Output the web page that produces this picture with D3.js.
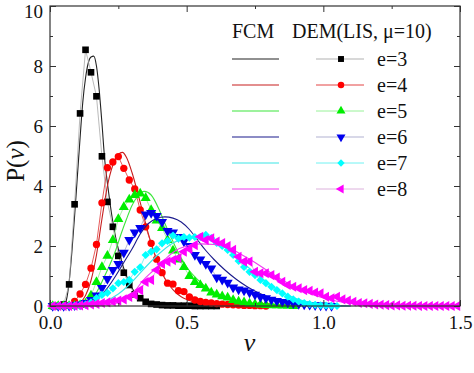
<!DOCTYPE html>
<html lang="en">
<head>
  <meta charset="UTF-8">
  <title>P(v) distributions, FCM vs DEM</title>
  <script src="https://cdn.jsdelivr.net/npm/d3@7"></script>
  <style>
    body { margin: 0; background: #fff; }
    svg text { font-family: "Liberation Serif", "DejaVu Serif", serif !important; fill: #111; }
  </style>
</head>
<body>
<script>
  // --- data ---
  // DEM sample positions (v)
  const vGrid = [0.01, 0.03, 0.05, 0.07, 0.09, 0.11, 0.13, 0.15, 0.17, 0.19,
    0.21, 0.23, 0.25, 0.27, 0.29, 0.31, 0.33, 0.35, 0.37, 0.39,
    0.41, 0.43, 0.45, 0.47, 0.49, 0.51, 0.53, 0.55, 0.57, 0.59,
    0.61, 0.63, 0.65, 0.67, 0.69, 0.71, 0.73, 0.75, 0.77, 0.79,
    0.81, 0.83, 0.85, 0.87, 0.89, 0.91, 0.93, 0.95, 0.97, 0.99,
    1.01, 1.03, 1.05, 1.07, 1.09, 1.11, 1.13, 1.15, 1.17, 1.19,
    1.21, 1.23, 1.25, 1.27, 1.29, 1.31, 1.33, 1.35, 1.37, 1.39,
    1.41, 1.43, 1.45, 1.47, 1.49];

  // DEM P(v), one value per vGrid entry (series stop where they reach 0)
  const dem3 = [0, 0, 0.05, 0.72, 3.39, 6.42, 8.54, 7.79, 6.99, 4.99,
    3.47, 2.64, 1.67, 1.11, 0.70, 0.39, 0.26, 0.14, 0.07, 0.05,
    0.03, 0.02, 0.02, 0.01, 0.01, 0.01, 0, 0, 0, 0, 0];
  const dem4 = [0, 0, 0, 0.02, 0.15, 0.4, 0.72, 1.26, 2.05, 3.44,
    4.61, 4.8, 4.98, 4.59, 4.2, 3.9, 3.2, 2.64, 2.09, 1.56,
    1.11, 0.76, 0.73, 0.51, 0.48, 0.3, 0.2, 0.15, 0.12, 0.1,
    0.08, 0.06, 0.05, 0.04, 0.03, 0.02, 0.02, 0.01, 0.01, 0];
  const dem5 = [0, 0, 0, 0, 0.01, 0.03, 0.08, 0.35, 0.8, 1.3,
    1.67, 2.2, 2.9, 3.3, 3.55, 3.7, 3.75, 3.6, 3.2, 2.85,
    2.6, 2.2, 1.85, 1.55, 1.3, 1.0, 0.8, 0.7, 0.58, 0.45,
    0.38, 0.32, 0.28, 0.2, 0.15, 0.12, 0.08, 0.06, 0.05, 0.03,
    0.02, 0.02, 0.01, 0.01, 0];
  const dem6 = [0, 0, 0, 0.01, 0.03, 0.05, 0.1, 0.2, 0.35, 0.6,
    0.9, 1.2, 1.4, 1.78, 2.2, 2.45, 2.6, 3.05, 3.1, 3.0,
    2.8, 2.5, 2.45, 2.3, 2.15, 2.0, 1.7, 1.55, 1.4, 1.25,
    0.95, 0.88, 0.78, 0.62, 0.55, 0.52, 0.45, 0.38, 0.3, 0.26,
    0.21, 0.17, 0.14, 0.11, 0.09, 0.07, 0.05, 0.04, 0.03, 0.02,
    0.01, 0];
  const dem7 = [0, 0, 0, 0.01, 0.01, 0.02, 0.05, 0.12, 0.26, 0.37,
    0.44, 0.59, 0.76, 0.8, 0.87, 1.14, 1.29, 1.7, 1.81, 1.89,
    2.09, 2.17, 2.35, 2.25, 2.3, 2.28, 2.3, 2.3, 2.37, 2.26,
    2.1, 2.0, 1.87, 1.7, 1.5, 1.3, 1.14, 1.03, 0.87, 0.76,
    0.64, 0.53, 0.42, 0.31, 0.22, 0.15, 0.1, 0.06, 0.04, 0.02,
    0.01, 0.005, 0];
  const dem8 = [0, 0, 0, 0, 0.01, 0.02, 0.03, 0.05, 0.07, 0.1,
    0.12, 0.15, 0.18, 0.22, 0.3, 0.37, 0.53, 0.8, 0.87, 1.2,
    1.4, 1.48, 1.53, 1.6, 1.81, 1.9, 2.03, 2.31, 2.2, 2.26,
    2.15, 2.1, 2.0, 1.87, 1.64, 1.48, 1.48, 1.14, 1.09, 1.09,
    1.03, 0.95, 0.81, 0.7, 0.64, 0.59, 0.53, 0.51, 0.45, 0.42,
    0.31, 0.26, 0.31, 0.22, 0.18, 0.14, 0.1, 0.09, 0.07, 0.05,
    0.04, 0.03, 0.02, 0.02, 0.01, 0.01, 0.01, 0, 0, 0,
    0, 0, 0, 0, 0];

  // FCM curves as [v, P]
  const fcm3 = [[0.04, 0], [0.05, 0.02], [0.06, 0.2], [0.07, 0.8], [0.08, 1.8], [0.09, 3.0],
    [0.10, 4.3], [0.11, 5.6], [0.12, 6.8], [0.13, 7.6], [0.14, 8.1], [0.15, 8.3], [0.16, 8.33],
    [0.17, 8.0], [0.18, 7.2], [0.19, 6.1], [0.20, 4.9], [0.21, 4.1], [0.22, 3.4], [0.23, 2.8],
    [0.24, 2.3], [0.25, 1.9], [0.26, 1.55], [0.27, 1.25], [0.28, 1.0], [0.30, 0.6], [0.32, 0.35],
    [0.35, 0.15], [0.40, 0.04], [0.45, 0.01], [0.60, 0]];
  const fcm4 = [[0.09, 0], [0.11, 0.1], [0.13, 0.35], [0.15, 0.85], [0.17, 1.7], [0.19, 2.9],
    [0.21, 4.0], [0.23, 4.7], [0.25, 5.05], [0.265, 5.12], [0.28, 4.95], [0.30, 4.45], [0.32, 3.8],
    [0.34, 3.1], [0.36, 2.4], [0.38, 1.8], [0.40, 1.3], [0.42, 0.92], [0.44, 0.65], [0.46, 0.45],
    [0.48, 0.31], [0.50, 0.22], [0.55, 0.09], [0.60, 0.04], [0.65, 0.015], [0.75, 0]];
  const fcm5 = [[0.11, 0], [0.14, 0.15], [0.17, 0.45], [0.20, 1.0], [0.22, 1.4], [0.24, 1.85],
    [0.26, 2.4], [0.28, 2.9], [0.30, 3.35], [0.32, 3.65], [0.345, 3.82], [0.37, 3.7], [0.40, 3.2],
    [0.42, 2.76], [0.44, 2.35], [0.46, 1.95], [0.48, 1.6], [0.50, 1.3], [0.54, 0.88], [0.58, 0.58],
    [0.62, 0.38], [0.66, 0.24], [0.70, 0.15], [0.75, 0.08], [0.80, 0.04], [0.90, 0.01], [1.0, 0]];
  const fcm6 = [[0.12, 0], [0.15, 0.1], [0.18, 0.3], [0.21, 0.6], [0.24, 1.0], [0.27, 1.45],
    [0.30, 1.9], [0.33, 2.4], [0.36, 2.75], [0.39, 2.92], [0.42, 2.97], [0.45, 2.93], [0.48, 2.8],
    [0.51, 2.55], [0.54, 2.2], [0.57, 1.85], [0.60, 1.55], [0.64, 1.2], [0.68, 0.9], [0.72, 0.65],
    [0.76, 0.45], [0.80, 0.3], [0.85, 0.17], [0.90, 0.09], [0.95, 0.04], [1.0, 0.02], [1.1, 0]];
  const fcm7 = [[0.12, 0], [0.16, 0.05], [0.20, 0.15], [0.25, 0.4], [0.30, 0.8], [0.35, 1.3],
    [0.40, 1.75], [0.45, 2.1], [0.50, 2.28], [0.55, 2.32], [0.60, 2.2], [0.65, 1.9], [0.70, 1.5],
    [0.75, 1.1], [0.80, 0.75], [0.85, 0.45], [0.90, 0.25], [0.95, 0.12], [1.00, 0.05], [1.05, 0.01],
    [1.1, 0]];
  const fcm8 = [[0.15, 0], [0.20, 0.03], [0.25, 0.12], [0.28, 0.3], [0.31, 0.5], [0.34, 0.85],
    [0.38, 1.2], [0.42, 1.55], [0.46, 1.85], [0.50, 2.0], [0.55, 2.07], [0.60, 2.05], [0.65, 1.95],
    [0.70, 1.72], [0.75, 1.45], [0.80, 1.15], [0.85, 0.87], [0.90, 0.62], [0.95, 0.42], [1.00, 0.27],
    [1.05, 0.16], [1.10, 0.09], [1.15, 0.045], [1.20, 0.02], [1.30, 0.005], [1.40, 0]];

  const labels = ['e=3', 'e=4', 'e=5', 'e=6', 'e=7', 'e=8'];
  const xTicks = [0, 0.5, 1.0, 1.5];
  const yTicks = [0, 2, 4, 6, 8, 10];

  // --- styling per series ---
  const fcmColors = ['#222222', '#c81e1e', '#3ce63c', '#1a1a8c', '#3ce6e6', '#f03cf0'];
  const demLineColors = ['#a8a8a8', '#e03030', '#8cf08c', '#a8a8cc', '#60f0f0', '#d8a8d8'];
  const markColors = ['#000000', '#ff0000', '#00ee00', '#0000ee', '#00ffff', '#ff00ff'];
  const shapes = [
    { type: d3.symbolSquare, size: 44, rot: 0 },
    { type: d3.symbolCircle, size: 42, rot: 0 },
    { type: d3.symbolTriangle, size: 44, rot: 0 },
    { type: d3.symbolTriangle, size: 44, rot: 180 },
    { type: d3.symbolSquare, size: 34, rot: 45 },
    { type: d3.symbolTriangle, size: 44, rot: -90 }
  ];

  const serif = '"Liberation Serif", "DejaVu Serif", serif';
  const width = 474, height = 373;
  const margin = { top: 6, right: 14, bottom: 67, left: 50 };

  const svg = d3.select('body').append('svg')
    .attr('width', width)
    .attr('height', height)
    .style('font-family', serif);

  const x = d3.scaleLinear().domain([0, 1.5]).range([margin.left, width - margin.right]);
  const y = d3.scaleLinear().domain([0, 10]).range([height - margin.bottom, margin.top]);

  const demSeries = [dem3, dem4, dem5, dem6, dem7, dem8]
    .map(vals => vals.map((p, i) => [vGrid[i], p]));
  const fcmSeries = [fcm3, fcm4, fcm5, fcm6, fcm7, fcm8];

  const plot = svg.append('g');

  const fcmLine = d3.line().x(d => x(d[0])).y(d => y(d[1])).curve(d3.curveMonotoneX);
  const demLine = d3.line().x(d => x(d[0])).y(d => y(d[1]));

  // each series: FCM curve, DEM connecting line, DEM markers
  demSeries.forEach((pts, k) => {
    plot.append('path')
      .attr('d', fcmLine(fcmSeries[k]))
      .attr('fill', 'none')
      .attr('stroke', fcmColors[k])
      .attr('stroke-width', 1.1);

    plot.append('path')
      .attr('d', demLine(pts))
      .attr('fill', 'none')
      .attr('stroke', demLineColors[k])
      .attr('stroke-width', 0.8);

    const sym = d3.symbol().type(shapes[k].type).size(shapes[k].size);
    plot.selectAll(null)
      .data(pts)
      .enter().append('path')
      .attr('d', sym)
      .attr('transform', d => `translate(${x(d[0])},${y(d[1])}) rotate(${shapes[k].rot})`)
      .attr('fill', markColors[k]);
  });

  // --- axes, ticks pointing inward ---
  const fmtX = d3.format('.1f');
  const axisStyle = g => {
    g.attr('font-family', serif);
    g.select('.domain').remove();
    g.selectAll('line').attr('stroke', '#333');
    g.selectAll('text').attr('font-size', 19).attr('fill', '#111')
      .style('font-family', serif);
  };
  const x0 = height - margin.bottom, y0 = margin.top;
  const xMinor = [0.25, 0.75, 1.25];
  const yMinor = [1, 3, 5, 7, 9];

  svg.append('g').attr('transform', `translate(0,${x0})`)
    .call(d3.axisBottom(x).tickValues(xTicks).tickFormat(fmtX).tickSize(-6).tickPadding(10))
    .call(axisStyle);
  svg.append('g').attr('transform', `translate(0,${x0})`)
    .call(d3.axisBottom(x).tickValues(xMinor).tickFormat('').tickSize(-3)).call(axisStyle);
  svg.append('g').attr('transform', `translate(0,${y0})`)
    .call(d3.axisTop(x).tickValues(xTicks).tickFormat('').tickSize(-6)).call(axisStyle);
  svg.append('g').attr('transform', `translate(0,${y0})`)
    .call(d3.axisTop(x).tickValues(xMinor).tickFormat('').tickSize(-3)).call(axisStyle);

  svg.append('g').attr('transform', `translate(${margin.left},0)`)
    .call(d3.axisLeft(y).tickValues(yTicks).tickFormat(d3.format('d')).tickSize(-6).tickPadding(7))
    .call(axisStyle);
  svg.append('g').attr('transform', `translate(${margin.left},0)`)
    .call(d3.axisLeft(y).tickValues(yMinor).tickFormat('').tickSize(-3)).call(axisStyle);
  svg.append('g').attr('transform', `translate(${width - margin.right},0)`)
    .call(d3.axisRight(y).tickValues(yTicks).tickFormat('').tickSize(-6)).call(axisStyle);
  svg.append('g').attr('transform', `translate(${width - margin.right},0)`)
    .call(d3.axisRight(y).tickValues(yMinor).tickFormat('').tickSize(-3)).call(axisStyle);

  // keep the top "10" label inside the picture
  svg.selectAll('.tick text').filter(d => d === 10).attr('dy', '0.62em');

  // frame
  svg.append('rect')
    .attr('x', margin.left).attr('y', margin.top)
    .attr('width', width - margin.left - margin.right)
    .attr('height', height - margin.top - margin.bottom)
    .attr('fill', 'none')
    .attr('stroke', '#333')
    .attr('stroke-width', 1.2);

  // axis titles
  const yTitle = svg.append('text')
    .attr('transform', 'translate(24,161) rotate(-90)')
    .attr('text-anchor', 'middle')
    .attr('font-size', 25);
  yTitle.append('tspan').text('P(');
  yTitle.append('tspan').attr('font-style', 'italic').text('v');
  yTitle.append('tspan').text(')');

  svg.append('text')
    .attr('x', x(0.73)).attr('y', 351)
    .attr('text-anchor', 'middle')
    .attr('font-size', 26)
    .attr('font-style', 'italic')
    .text('v');

  // --- legend ---
  const legend = svg.append('g');
  legend.append('text').attr('x', 232).attr('y', 38).attr('font-size', 20).text('FCM');
  legend.append('text').attr('x', 292).attr('y', 38).attr('font-size', 20).text('DEM(LIS, \u03bc=10)');

  labels.forEach((lab, k) => {
    const ly = 59 + k * 26;
    legend.append('line')
      .attr('x1', 232).attr('x2', 279).attr('y1', ly).attr('y2', ly)
      .attr('stroke', fcmColors[k]).attr('stroke-width', 1.1);
    legend.append('line')
      .attr('x1', 316).attr('x2', 364).attr('y1', ly).attr('y2', ly)
      .attr('stroke', demLineColors[k]).attr('stroke-width', 0.9);
    legend.append('path')
      .attr('d', d3.symbol().type(shapes[k].type).size(shapes[k].size * 0.8)())
      .attr('transform', `translate(341,${ly}) rotate(${shapes[k].rot})`)
      .attr('fill', markColors[k]);
    legend.append('text')
      .attr('x', 377).attr('y', ly + 7)
      .attr('font-size', 20)
      .text(lab);
  });
</script>
</body>
</html>
